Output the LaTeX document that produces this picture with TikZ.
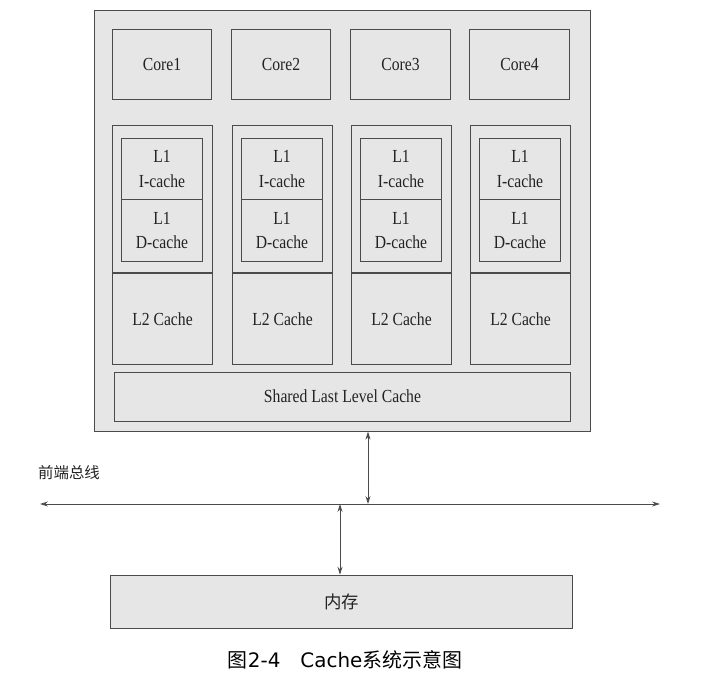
\documentclass[tikz,border=0pt]{standalone}
\usepackage{fontspec}
\setmainfont{Liberation Serif}[FakeStretch=0.85]
\newfontfamily\cjk{Noto Sans CJK SC}
\newfontfamily\capfont{DejaVu Sans}
\usetikzlibrary{arrows.meta}
\definecolor{boxgray}{RGB}{230,230,230}
\definecolor{linegray}{RGB}{75,75,75}
\definecolor{textgray}{RGB}{35,35,35}
\tikzset{
	box/.style = {draw = linegray, fill = boxgray, line width = 0.8pt, inner sep = 0pt, text = textgray, font = \fontsize{18.5}{25}\selectfont, align = center},
	core/.style = {box, minimum width = 100, minimum height = 71},
	top/.style = {box, minimum width = 101, minimum height = 148},
	lone/.style = {box, minimum width = 82, minimum height = 61.5},
	ltwo/.style = {box, minimum width = 101, minimum height = 92},
	bus/.style = {draw = linegray, line width = 0.8pt}
}
\begin{document}
\begin{tikzpicture}[x = 1bp, y = -1bp, >={Stealth[length=8pt, width=5pt]}]
				\useasboundingbox (0,0) rectangle (720,682);
				
				\node[box, minimum width = 498, minimum height = 422] (chip) at (342,221) {};
				
				\node[core] (c1) at (162,64.5) {Core1};
				\node[core] (c2) at (281,64.5) {Core2};
				\node[core] (c3) at (400.5,64.5) {Core3};
				\node[core] (c4) at (519.5,64.5) {Core4};
				
				\node[top] (t1) at (162.5,199) {};
				\node[top] (t2) at (282.5,199) {};
				\node[top] (t3) at (401.5,199) {};
				\node[top] (t4) at (520.5,199) {};
				
				\node[lone] (i1) at (162,169) {L1\\I-cache};
				\node[lone] (i2) at (282,169) {L1\\I-cache};
				\node[lone] (i3) at (401,169) {L1\\I-cache};
				\node[lone] (i4) at (520,169) {L1\\I-cache};
				
				\node[lone] (d1) at (162,230.5) {L1\\D-cache};
				\node[lone] (d2) at (282,230.5) {L1\\D-cache};
				\node[lone] (d3) at (401,230.5) {L1\\D-cache};
				\node[lone] (d4) at (520,230.5) {L1\\D-cache};
				
				\node[ltwo] (l1) at (162.5,319) {L2 Cache};
				\node[ltwo] (l2) at (282.5,319) {L2 Cache};
				\node[ltwo] (l3) at (401.5,319) {L2 Cache};
				\node[ltwo] (l4) at (520.5,319) {L2 Cache};
				
				\node[box, minimum width = 457, minimum height = 49] (llc) at (342.5,396.5) {Shared Last Level Cache};
				
				\node[box, minimum width = 463, minimum height = 53, font = \cjk\fontsize{17.5}{20}\selectfont] (mem) at (341.5,601.5) {内存};
				
				\coordinate (busl) at (40,504);
				\coordinate (busr) at (660,504);
				\coordinate (up) at (368,504);
				\coordinate (down) at (340,504);
				
				\draw[bus, <->] (busl) -- (busr);
				\draw[bus, <->] (chip.south -| up) -- (up);
				\draw[bus, <->] (down) -- (mem.north -| down);
				
				\node[text = textgray, font = \cjk\fontsize{15.5}{18}\selectfont] (fsb) at (69,473) {前端总线};
				
				\node[text = black, font = \fontsize{20}{22}\selectfont] (cap) at (345,660) {{\cjk 图}{\capfont 2-4}\hspace{20bp}{\capfont Cache}{\cjk 系统示意图}};
			\end{tikzpicture}
\end{document}
